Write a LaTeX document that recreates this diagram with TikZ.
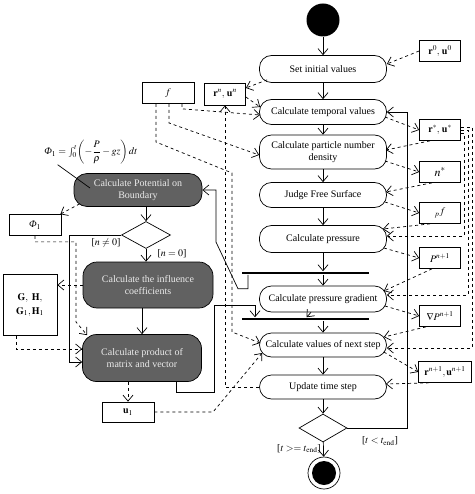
\documentclass[tikz,border=0pt]{standalone}
\usepackage{amsmath}
\usepackage{mathptmx}
\usepackage{fontspec}
\setmainfont{Liberation Serif}
\usetikzlibrary{shapes.geometric, arrows.meta}

\newcommand{\phisym}{\text{\itshape Φ}}

\tikzset{
    act/.style={draw, rounded corners=12pt, minimum width=127pt, minimum height=25pt, align=center, inner sep=1pt},
    gact/.style={act, fill=black!62, text=black!8, rounded corners=13pt},
    obj/.style={draw, minimum width=41pt, minimum height=21pt, inner sep=1pt, align=center},
    bar/.style={fill=black, inner sep=0pt, minimum width=127pt, minimum height=2.8pt},
    choice/.style={draw, diamond, inner sep=0pt, minimum width=48pt, minimum height=28pt},
    flow/.style={-{Straight Barb[length=6pt,width=10pt]}},
    data/.style={flow, dashed},
}

\begin{document}
\begin{tikzpicture}[x=1pt, y=-1pt, line width=0.7pt, font=\fontsize{10}{12}\selectfont]
    \useasboundingbox (0,0) rectangle (474,494);

    % main loop
    \node[circle, fill=black, minimum size=33pt, inner sep=0pt] (start) at (323, 20) {};
    \node[act, minimum height=27pt] (init)  at (323, 69)  {Set initial values};
    \node[act]                      (temp)  at (323, 112) {Calculate temporal values};
    \node[act, minimum height=34pt] (dens)  at (323, 152) {Calculate particle number\\density};
    \node[act]                      (judge) at (323, 195) {Judge Free Surface};
    \node[act, minimum height=27pt] (press) at (323, 239) {Calculate pressure};
    \node[bar]                      (bar1)  at (305, 273) {};
    \node[act, minimum height=26pt] (grad)  at (323, 299) {Calculate pressure gradient};
    \node[bar]                      (bar2)  at (305, 319) {};
    \node[act, minimum height=24pt] (next)  at (323, 345) {Calculate values of next step};
    \node[act, minimum height=24pt] (upd)   at (323, 387) {Update time step};
    \node[choice]                   (dec)   at (323, 428) {};
    \node[circle, draw, minimum size=32pt, inner sep=0pt] (end) at (324, 473) {};
    \node[circle, fill=black, minimum size=24pt, inner sep=0pt] (end-in) at (end) {};
    \coordinate (rail) at (407, 0);

    % boundary element part
    \node[gact, minimum width=128pt, minimum height=33pt] (pot)  at (138, 190) {Calculate Potential on\\Boundary};
    \node[choice, minimum width=49pt, minimum height=27pt] (ndec) at (146, 235) {};
    \node[gact, minimum width=130pt, minimum height=46pt, rounded corners=14pt] (infl) at (148, 285) {Calculate the influence\\coefficients};
    \node[gact, minimum width=119pt, minimum height=47pt, rounded corners=14pt] (prod) at (142, 358) {Calculate product of\\matrix and vector};
    \node (phi-eq) at (91, 152) {$\phisym_1=\int_0^t\!\left(-\dfrac{P}{\rho}-gz\right)dt$};

    % objects
    \node[obj, minimum width=52pt] (f)   at (168, 93)  {$f$};
    \node[obj, minimum height=22pt] (rn) at (225, 94)  {$\mathbf{r}^n,\,\mathbf{u}^n$};
    \node[obj]                     (r0)  at (440, 51)  {$\mathbf{r}^0,\,\mathbf{u}^0$};
    \node[obj]                     (rs)  at (440, 130) {$\mathbf{r}^*,\,\mathbf{u}^*$};
    \node[obj]                     (ns)  at (440, 172) {\large $n^*$};
    \node[obj]                     (pf)  at (440, 213) {${}_p f$};
    \node[obj]                     (pn)  at (440, 258) {$P^{n+1}$};
    \node[obj]                     (gp)  at (440, 316) {$\nabla P^{n+1}$};
    \node[obj, minimum width=53pt] (rn1) at (445, 372) {$\mathbf{r}^{n+1},\mathbf{u}^{n+1}$};
    \node[obj, minimum width=52pt] (phi) at (35, 225)  {$\phisym_1$};
    \node[obj, minimum width=54pt, minimum height=61pt] (gh) at (30, 305) {$\mathbf{G},\ \mathbf{H},$\\[2pt]$\mathbf{G}_1,\mathbf{H}_1$};
    \node[obj, minimum width=52pt, minimum height=20pt] (u1) at (128, 412) {$\mathbf{u}_1$};

    % control flow
    \draw[flow] (start) -- (init);
    \foreach \a/\b in {init/temp, temp/dens, dens/judge, judge/press, grad/bar2, next/upd, upd/dec}{
        \draw[flow] (\a) -- (\b);
    };
    \draw[flow] (press) -- (press.south |- bar1.north);
    \draw[flow] (press.south |- bar1.south) -- (grad);
    \draw[flow] (grad.south |- bar2.south) -- (next);
    \draw[flow] (dec) -- (end) node[pos=0.45, left=-1pt] {[$t>=t_{\mathrm{end}}$]};
    \draw[flow] (dec.east) -- (dec.east -| rail) |- (temp.east);
    \node at (380, 441) {[$t<t_{\mathrm{end}}$]};

    \draw[flow] (ndec.north |- pot.south) -- (ndec.north);
    \draw[flow] (ndec.south) -- (ndec.south |- infl.north);
    \draw[flow] (prod.north |- infl.south) -- (prod.north);
    \draw[flow] (ndec.west) -- (69, 235) |- ([yshift=-4pt]prod.west);
    \node at (106, 243) {[$n\neq0$]};
    \node at (172, 254) {[$n=0$]};
    \draw[flow] ([xshift=34pt]prod.south) -- ++(0,10) -| (214,305) -| ([xshift=-50pt]bar2.north);
    \draw[flow] ([xshift=-57pt]bar1.south) -- ++(0,14) -- ++(-10,0) -- (216,242) |- (pot.east);
    \draw ([xshift=17pt,yshift=3pt]phi-eq.south west) -- ([xshift=-48pt,yshift=2pt]pot.center);

    % object flow
    \draw[data] (r0.west) -- ([yshift=5pt]init.east);
    \draw[data] ([xshift=8pt,yshift=3pt]init.south west) -- ([yshift=6pt]rn.east);
    \draw[data] ([yshift=-3pt]rn.east) -- ([xshift=1pt,yshift=5pt]temp.west);
    \draw[data] ([xshift=14pt]f.south) -- ++(0,5) -- ([xshift=1pt,yshift=-3pt]temp.west);
    \draw[data] ([xshift=1pt]f.south) -- (169,123) -- ([yshift=-3pt]dens.west);
    \draw[data] ([xshift=-12pt]f.south) -- (156,142) -- (232,173) -- (232,332) -- ([xshift=1pt,yshift=2pt]next.west);
    \draw[data] (upd.west) -| (rn.south);
    \draw[data] (u1.east) -- (213,412) -- ([xshift=3pt,yshift=-8pt]next.west);

    \draw[data] ([xshift=6pt,yshift=3pt]pot.south west) -- ([xshift=-1pt]phi.north east);
    \draw[data] (phi.south) -- ++(0,6) -| (76,322) -- ([xshift=5pt,yshift=-1pt]prod.north west);
    \draw[data] (infl.west) -- (infl.west -| gh.east);
    \draw[data] ([xshift=-14pt]gh.south) |- ([yshift=9pt]prod.west);
    \draw[data] (u1.north |- prod.south) -- (u1.north);

    \draw[data] ([xshift=-2pt,yshift=-5pt]temp.east) -- (rs.west);
    \draw[data] ([xshift=-10pt]rs.south) -- ([xshift=-1pt,yshift=2pt]dens.east);
    \draw[data] ([xshift=-2pt,yshift=-9pt]dens.east) -- (ns.west);
    \draw[data] ([xshift=-8pt]ns.south) -- ([xshift=-1pt,yshift=3pt]judge.east);
    \draw[data] ([xshift=-2pt,yshift=-7pt]judge.east) -- (pf.west);
    \draw[data] ([xshift=-10pt]pf.south) -- ([xshift=-4pt,yshift=10pt]press.east);
    \draw[data] ([xshift=-3pt,yshift=-9pt]press.east) -- (pn.west);
    \draw[data] ([xshift=-8pt]pn.south) -- ([xshift=-3pt,yshift=8pt]grad.east);
    \draw[data] ([xshift=-2pt,yshift=-7pt]grad.east) -- (gp.west);
    \draw[data] ([xshift=-14pt]gp.south) -- ([xshift=-3pt,yshift=8pt]next.east);
    \draw[data] ([xshift=-3pt,yshift=-7pt]next.east) -- (rn1.west);
    \draw[data] ([xshift=-16pt]rn1.south) -- ([xshift=-1pt,yshift=3pt]upd.east);

    \draw[data] ([yshift=-3pt]rs.east) -| (464,236) -- ([yshift=3pt]press.east);
    \draw[data] (rs.east) -| (468,295) -- ([yshift=4pt]grad.east);
    \draw[data] ([yshift=3pt]rs.east) -| (472,348) -- ([yshift=-3pt]next.east);
\end{tikzpicture}
\end{document}
